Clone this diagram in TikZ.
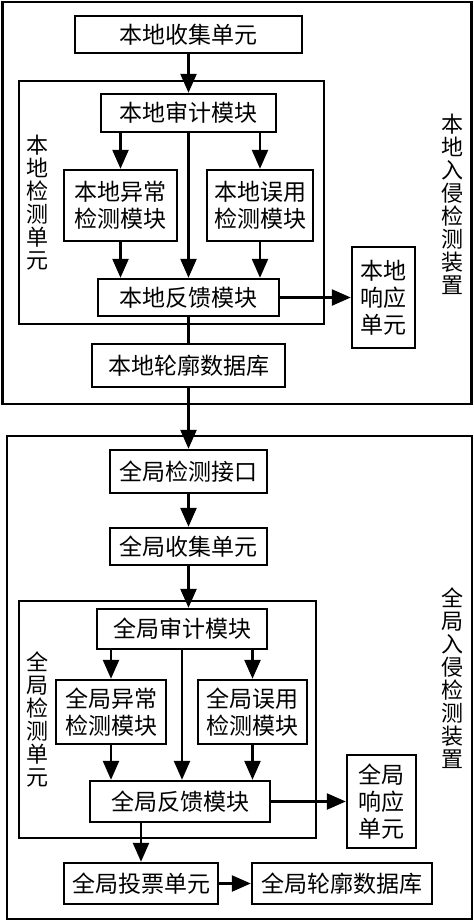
\documentclass[tikz,border=0pt]{standalone}
\usepackage{fontspec}
\setmainfont{Noto Sans CJK SC}
\usetikzlibrary{arrows.meta}
\begin{document}
\begin{tikzpicture}[x=1pt,y=-1pt, line width=2.4pt,
 box/.style={draw, inner sep=0pt, align=center, font=\fontsize{23}{27}\selectfont},
 frame/.style={draw, inner sep=0pt},
 arr/.style={-{Triangle[width=16pt,length=19pt]}},
 vlabel/.style={align=center, inner sep=0pt, font=\fontsize{22}{23}\selectfont}]
\useasboundingbox (0,0) rectangle (474,922);
% frames
\node[frame, minimum width=469pt, minimum height=402pt] (lout) at (237,203) {};
\node[frame, minimum width=305pt, minimum height=243pt] (ldet) at (171.5,202.5) {};
\node[frame, minimum width=465pt, minimum height=483pt] (gout) at (239.5,677.5) {};
\node[frame, minimum width=297pt, minimum height=237pt] (gdet) at (167.5,719.5) {};
% local nodes
\node[box, minimum width=227pt, minimum height=37pt] (lcollect) at (188.5,34.5) {本地收集单元};
\node[box, minimum width=175pt, minimum height=38pt] (laudit) at (188.5,113) {本地审计模块};
\node[box, minimum width=113pt, minimum height=71pt] (lanom) at (120.5,205.5) {本地异常\\检测模块};
\node[box, minimum width=106pt, minimum height=71pt] (lmis) at (260,205.5) {本地误用\\检测模块};
\node[box, minimum width=181pt, minimum height=37pt] (lfb) at (188.5,297.5) {本地反馈模块};
\node[box, minimum width=63pt, minimum height=101pt] (lresp) at (383.5,297.5) {本地\\响应\\单元};
\node[box, minimum width=193pt, minimum height=43pt] (ldb) at (188.5,365.5) {本地轮廓数据库};
\node[vlabel] (llab) at (38,202.5) {本\\地\\检\\测\\单\\元};
\node[vlabel] (loutlab) at (452,204) {本\\地\\入\\侵\\检\\测\\装\\置};
% global nodes
\node[box, minimum width=157pt, minimum height=43pt] (gif) at (188.5,471.5) {全局检测接口};
\node[box, minimum width=157pt, minimum height=37pt] (gcollect) at (188.5,546.5) {全局收集单元};
\node[box, minimum width=170pt, minimum height=40pt] (gaudit) at (182,629) {全局审计模块};
\node[box, minimum width=110pt, minimum height=64pt] (ganom) at (111,712) {全局异常\\检测模块};
\node[box, minimum width=109pt, minimum height=64pt] (gmis) at (252.5,712) {全局误用\\检测模块};
\node[box, minimum width=180pt, minimum height=41pt] (gfb) at (180,801.5) {全局反馈模块};
\node[box, minimum width=69pt, minimum height=93pt] (gresp) at (381.5,801.5) {全局\\响应\\单元};
\node[box, minimum width=154pt, minimum height=41pt] (gvote) at (141,883.5) {全局投票单元};
\node[box, minimum width=180pt, minimum height=41pt] (gdb) at (342,883.5) {全局轮廓数据库};
\node[vlabel] (glab) at (38,719) {全\\局\\检\\测\\单\\元};
\node[vlabel] (goutlab) at (452,678) {全\\局\\入\\侵\\检\\测\\装\\置};
% local connectors
\draw[arr] (lcollect.south) -- (laudit.north);
\draw[arr] (laudit.south -| lanom.north) -- (lanom.north);
\draw[arr] (laudit.south -| lmis.north) -- (lmis.north);
\draw[arr] (laudit.south) -- (lfb.north);
\draw[arr] (lanom.south) -- (lanom.south |- lfb.north);
\draw[arr] (lmis.south) -- (lmis.south |- lfb.north);
\draw[arr] (lfb.east) -- (lfb.east -| lresp.west);
\draw (lfb.south) -- (ldb.north);
\draw[arr] (ldb.south) -- (gif.north);
% global connectors
\draw[arr] (gif.south) -- (gcollect.north);
\draw[arr] (gcollect.south) -- (gcollect.south |- gaudit.north);
\draw[arr] (gaudit.south -| ganom.north) -- (ganom.north);
\draw[arr] (gaudit.south -| gmis.north) -- (gmis.north);
\draw[arr] (gaudit.south) -- (gaudit.south |- gfb.north);
\draw[arr] (ganom.south) -- (ganom.south |- gfb.north);
\draw[arr] (gmis.south) -- (gmis.south |- gfb.north);
\draw[arr] (gfb.east) -- (gfb.east -| gresp.west);
\draw[arr] (gvote.north |- gfb.south) -- (gvote.north);
\draw[arr] (gvote.east) -- (gdb.west);
\end{tikzpicture}
\end{document}
